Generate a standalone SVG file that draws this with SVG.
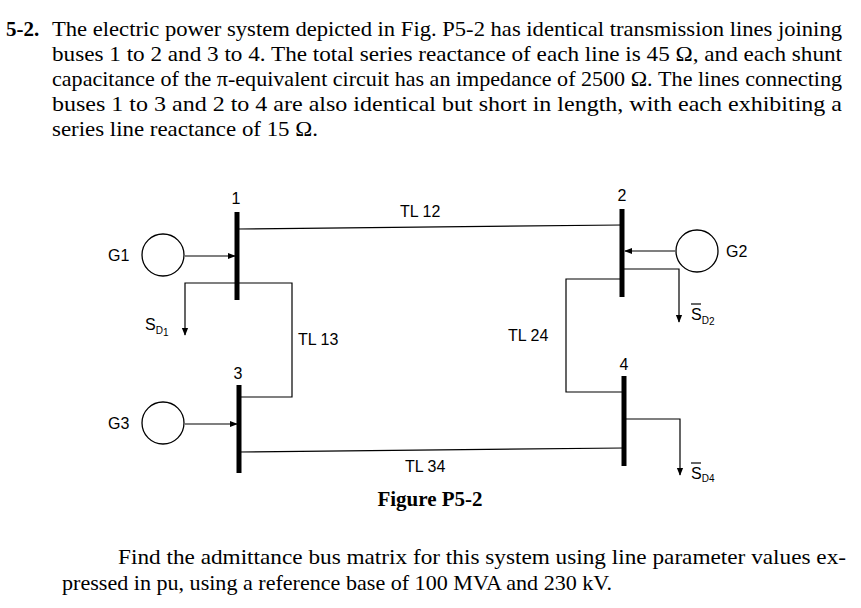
<svg xmlns="http://www.w3.org/2000/svg" width="861" height="608" viewBox="0 0 861 608">
<defs>
<marker id="ah" viewBox="0 0 10 10" refX="9" refY="5" markerWidth="8" markerHeight="8" markerUnits="userSpaceOnUse" orient="auto"><path d="M0,1 L10,5 L0,9 Z" fill="#000"/></marker>
<style>
.t{font-family:"Liberation Serif",serif;font-size:21px;fill:#000}
.s{font-family:"Liberation Sans",sans-serif;font-size:16px;fill:#000}
.sub{font-size:10px}
.w{fill:none;stroke:#000;stroke-width:1.2}
.bus{stroke:#000;stroke-width:5}
.g{fill:#fff;stroke:#000;stroke-width:1.3}
</style>
</defs>
<rect width="861" height="608" fill="#fff"/>
<g id="text">
<text class="t" x="6" y="36" font-weight="bold">5-2.</text>
<text class="t" x="52" y="36" textLength="790" lengthAdjust="spacingAndGlyphs">The electric power system depicted in Fig. P5-2 has identical transmission lines joining</text>
<text class="t" x="52" y="61" textLength="790" lengthAdjust="spacingAndGlyphs">buses 1 to 2 and 3 to 4. The total series reactance of each line is 45 Ω, and each shunt</text>
<text class="t" x="52" y="86" textLength="790" lengthAdjust="spacingAndGlyphs">capacitance of the π-equivalent circuit has an impedance of 2500 Ω. The lines connecting</text>
<text class="t" x="52" y="111" textLength="790" lengthAdjust="spacingAndGlyphs">buses 1 to 3 and 2 to 4 are also identical but short in length, with each exhibiting a</text>
<text class="t" x="52" y="136" textLength="266" lengthAdjust="spacingAndGlyphs">series line reactance of 15 Ω.</text>
<text class="t" x="430" y="506" text-anchor="middle" font-weight="bold" font-size="18">Figure P5-2</text>
<text class="t" x="118" y="564" textLength="728" lengthAdjust="spacingAndGlyphs">Find the admittance bus matrix for this system using line parameter values ex-</text>
<text class="t" x="62" y="590" textLength="550" lengthAdjust="spacingAndGlyphs">pressed in pu, using a reference base of 100 MVA and 230 kV.</text>
</g>
<g id="connectors">
<line class="w" x1="238" y1="229" x2="622" y2="225"/>
<line class="w" x1="239" y1="452" x2="624" y2="448"/>
<polyline class="w" points="237,283 292,283 292,397 240,397"/>
<polyline class="w" points="622,279 566,279 566,392 624,392"/>
<polyline class="w" points="237,283 185,283 185,335" marker-end="url(#ah)"/>
<polyline class="w" points="622,269 679,269 679,322" marker-end="url(#ah)"/>
<polyline class="w" points="624,419 680,419 680,475" marker-end="url(#ah)"/>
<line class="w" x1="185" y1="256" x2="235" y2="256" marker-end="url(#ah)"/>
<line class="w" x1="185" y1="424" x2="237" y2="424" marker-end="url(#ah)"/>
<line class="w" x1="675" y1="251" x2="625" y2="251" marker-end="url(#ah)"/>
</g>
<g id="bus1"><line class="bus" x1="237" y1="212" x2="237" y2="300"/><text class="s" x="236" y="204" text-anchor="middle">1</text></g>
<g id="bus2"><line class="bus" x1="622" y1="209" x2="622" y2="297"/><text class="s" x="622" y="201" text-anchor="middle">2</text></g>
<g id="bus3"><line class="bus" x1="239" y1="385" x2="239" y2="473"/><text class="s" x="238" y="379" text-anchor="middle">3</text></g>
<g id="bus4"><line class="bus" x1="624" y1="376" x2="624" y2="466"/><text class="s" x="624" y="370" text-anchor="middle">4</text></g>
<g id="G1"><circle class="g" cx="163" cy="255" r="21"/><text class="s" x="108" y="261">G1</text></g>
<g id="G3"><circle class="g" cx="163" cy="423" r="21"/><text class="s" x="108" y="429">G3</text></g>
<g id="G2"><circle class="g" cx="697" cy="251" r="21"/><text class="s" x="726" y="257">G2</text></g>
<g id="labels">
<text class="s" x="400" y="217">TL 12</text>
<text class="s" x="298" y="345">TL 13</text>
<text class="s" x="508" y="341">TL 24</text>
<text class="s" x="405" y="472">TL 34</text>
<text class="s" x="145" y="330">S<tspan class="sub" dy="4">D</tspan><tspan class="sub" font-size="8" dy="2">1</tspan></text>
<text class="s" x="691" y="320">S<tspan class="sub" dy="4">D</tspan><tspan class="sub" font-size="8" dy="1">2</tspan></text>
<line class="w" x1="691" y1="304" x2="701" y2="304"/>
<text class="s" x="691" y="479">S<tspan class="sub" dy="3">D</tspan><tspan class="sub" font-size="8" dy="0">4</tspan></text>
<line class="w" x1="691" y1="463" x2="701" y2="463"/>
</g>
</svg>
